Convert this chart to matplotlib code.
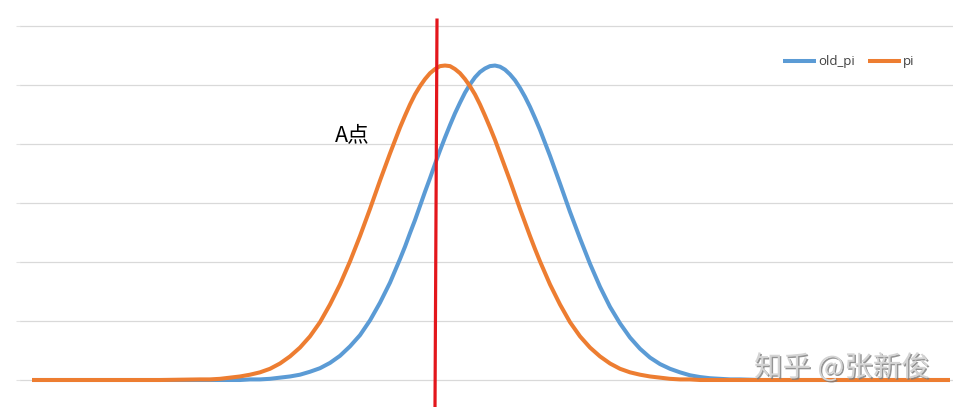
import matplotlib.pyplot as plt
import matplotlib.patheffects as pe


# x positions of the samples (horizontal units of the picture);
# denser around the two peaks
x_tail_left = [32, 80, 120, 160]
x_left = [200, 210, 220, 230, 240, 250, 260, 270, 280, 290,
          300, 310, 320, 330, 340, 350, 360, 370, 380, 390]
x_mid = [400, 405, 410, 415, 420, 425, 430, 435, 440, 445,
         450, 455, 460, 465, 470, 475, 480, 485, 490, 495,
         500, 505, 510, 515, 520, 525, 530, 535, 540]
x_right = [550, 560, 570, 580, 590, 600, 610, 620, 630, 640,
           650, 660, 670, 680, 690, 700, 710, 720, 730, 740]
x_tail_right = [760, 800, 850, 900, 950]
x_vals = x_tail_left + x_left + x_mid + x_right + x_tail_right

old_pi = ([0.0, 0.0, 0.0, 0.0]
          + [0.0, 0.0, 0.0, 0.0, 0.0, 0.01, 0.01, 0.02, 0.04, 0.06,
             0.09, 0.14, 0.20, 0.29, 0.41, 0.57, 0.76, 1.01, 1.31, 1.65]
          + [2.05, 2.26, 2.49, 2.71, 2.95, 3.19, 3.42, 3.66, 3.89, 4.11,
             4.32, 4.52, 4.70, 4.87, 5.01, 5.13, 5.22, 5.28, 5.32, 5.33,
             5.31, 5.26, 5.18, 5.08, 4.95, 4.80, 4.63, 4.44, 4.24]
          + [3.80, 3.33, 2.85, 2.40, 1.97, 1.58, 1.24, 0.96, 0.72, 0.53,
             0.38, 0.27, 0.19, 0.13, 0.08, 0.05, 0.03, 0.02, 0.01, 0.01]
          + [0.0, 0.0, 0.0, 0.0, 0.0])

pi = ([0.0, 0.0, 0.0, 0.0]
      + [0.01, 0.01, 0.02, 0.04, 0.06, 0.09, 0.13, 0.19, 0.28, 0.40,
         0.55, 0.74, 0.98, 1.28, 1.62, 2.01, 2.44, 2.90, 3.38, 3.84]
      + [4.28, 4.48, 4.67, 4.84, 4.98, 5.10, 5.20, 5.27, 5.32, 5.33,
         5.32, 5.27, 5.20, 5.10, 4.98, 4.84, 4.67, 4.48, 4.28, 4.07,
         3.84, 3.61, 3.38, 3.14, 2.90, 2.67, 2.44, 2.22, 2.01]
      + [1.62, 1.28, 0.98, 0.74, 0.55, 0.40, 0.28, 0.19, 0.13, 0.09,
         0.06, 0.04, 0.02, 0.01, 0.01, 0.0, 0.0, 0.0, 0.0, 0.0]
      + [0.0, 0.0, 0.0, 0.0, 0.0])

grid_levels = [0, 1, 2, 3, 4, 5, 6]

marker_x = [437, 435]
marker_y = [6.10, -0.46]

annotation = "A点"
watermark = "知乎 @张新俊"

BLUE = "#5B9BD5"
ORANGE = "#ED7D31"
RED = "#E3161C"

plt.rcParams["font.family"] = ["Open Sans", "Noto Sans CJK SC", "DejaVu Sans"]

fig = plt.figure(figsize=(9.56, 4.07), dpi=100)
ax = fig.add_axes([20 / 956, 0, 933 / 956, 1])
ax.set_xlim(20, 953)
ax.set_ylim(-27 / 59, 380 / 59)

ax.set_yticks(grid_levels)
ax.set_xticks([])
ax.set_yticklabels([])
ax.tick_params(axis="y", length=3, color="#e3e3e3", width=0.8)
ax.grid(axis="y", color="#d9d9d9", linewidth=0.9)
ax.set_axisbelow(True)
for spine in ax.spines.values():
    spine.set_visible(False)

ax.plot(x_vals, old_pi, color=BLUE, linewidth=2.9, label="old_pi",
        solid_capstyle="butt", solid_joinstyle="round")
ax.plot(x_vals, pi, color=ORANGE, linewidth=2.9, label="pi",
        solid_capstyle="butt", solid_joinstyle="round")

ax.plot(marker_x, marker_y, color=RED, linewidth=2.3, clip_on=False)

ax.text(335, 4.15, annotation, fontsize=15.5, ha="left", va="center",
        family=["Noto Sans CJK SC", "DejaVu Sans"], color="black")

leg = ax.legend(loc="center", bbox_to_anchor=(849, 5.39),
                bbox_transform=ax.transData, ncol=2, frameon=False,
                fontsize=9.5, handlelength=2.5, handletextpad=0.15,
                columnspacing=1.0)
for text in leg.get_texts():
    text.set_color("#404040")

ax.text(842, 0.2, watermark, fontsize=20.5, ha="center", va="center",
        family=["Noto Sans CJK SC", "DejaVu Sans"], color="#d4d4d4",
        path_effects=[pe.withSimplePatchShadow(offset=(1, -1),
                                               shadow_rgbFace="#7a7a7a",
                                               alpha=0.8)])

fig.savefig("out.png", dpi=100)
